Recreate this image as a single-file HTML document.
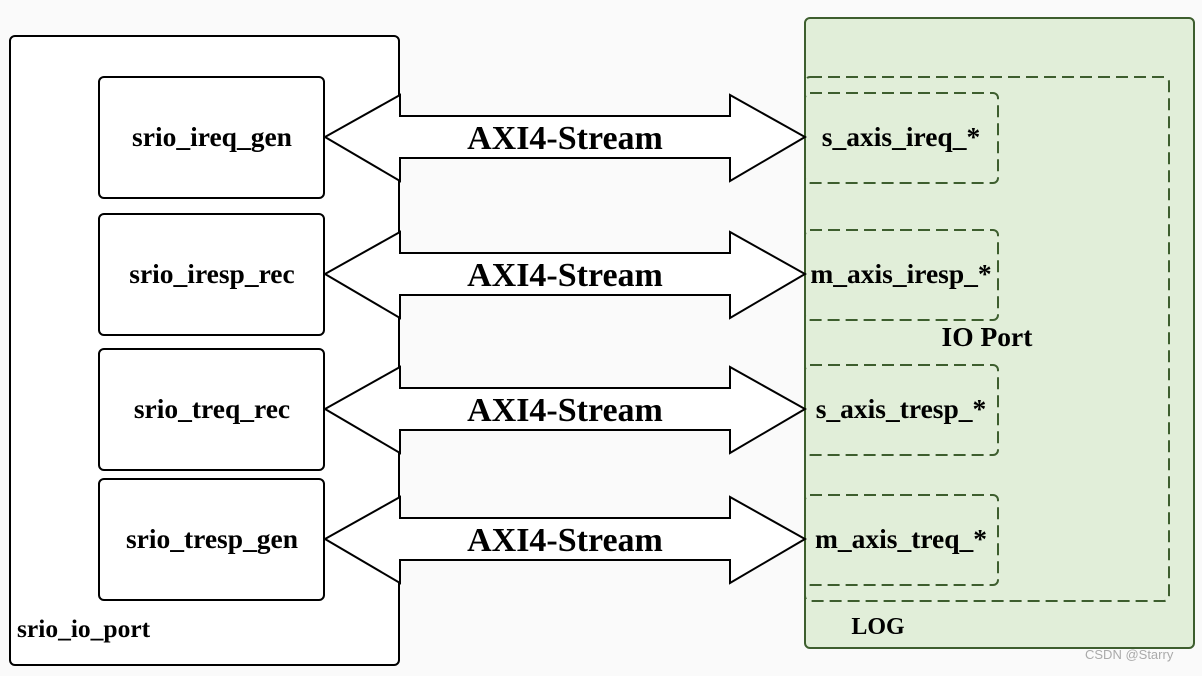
<!DOCTYPE html>
<html><head><meta charset="utf-8"><style>
html,body{margin:0;padding:0;background:#fafafa;}
svg text{font-family:"Liberation Serif",serif;font-weight:bold;fill:#000;}
</style></head><body>
<svg width="1202" height="671" viewBox="0 0 1202 671" xmlns="http://www.w3.org/2000/svg">
<rect x="0" y="0" width="1202" height="671" fill="#fafafa"/>
<rect x="10" y="36" width="389" height="629" rx="5" fill="#fff" stroke="#000" stroke-width="2"/>
<g fill="#fff" stroke="#000" stroke-width="2">
<rect x="99" y="77" width="225" height="121" rx="5"/>
<rect x="99" y="214" width="225" height="121" rx="5"/>
<rect x="99" y="349" width="225" height="121" rx="5"/>
<rect x="99" y="479" width="225" height="121" rx="5"/>
</g>
<g font-size="27.5" text-anchor="middle">
<text x="212" y="146">srio_ireq_gen</text>
<text x="212" y="283">srio_iresp_rec</text>
<text x="212" y="418">srio_treq_rec</text>
<text x="212" y="548">srio_tresp_gen</text>
</g>
<text x="17" y="637" font-size="25.5">srio_io_port</text>
<rect x="805" y="18" width="389" height="630" rx="5" fill="#e1eed9" stroke="#3d5e2e" stroke-width="2"/>
<g fill="none" stroke="#3d5e2e" stroke-width="2" stroke-dasharray="12,6">
<rect x="805" y="77" width="364" height="524" rx="5"/>
<rect x="805" y="93" width="193" height="90" rx="5"/>
<rect x="805" y="230" width="193" height="90" rx="5"/>
<rect x="805" y="365" width="193" height="90" rx="5"/>
<rect x="805" y="495" width="193" height="90" rx="5"/>
</g>
<g fill="#fff" stroke="#000" stroke-width="2">
<path d="M325,137 L400,95 L400,116 L730,116 L730,95 L805,137 L730,181 L730,158 L400,158 L400,181 Z"/>
<path d="M325,274 L400,232 L400,253 L730,253 L730,232 L805,274 L730,318 L730,295 L400,295 L400,318 Z"/>
<path d="M325,409 L400,367 L400,388 L730,388 L730,367 L805,409 L730,453 L730,430 L400,430 L400,453 Z"/>
<path d="M325,539 L400,497 L400,518 L730,518 L730,497 L805,539 L730,583 L730,560 L400,560 L400,583 Z"/>
</g>
<g font-size="34" text-anchor="middle">
<text x="565" y="149">AXI4-Stream</text>
<text x="565" y="286">AXI4-Stream</text>
<text x="565" y="421">AXI4-Stream</text>
<text x="565" y="551">AXI4-Stream</text>
</g>
<g font-size="27.5" text-anchor="middle">
<text x="901" y="146">s_axis_ireq_*</text>
<text x="901" y="283">m_axis_iresp_*</text>
<text x="901" y="418">s_axis_tresp_*</text>
<text x="901" y="548">m_axis_treq_*</text>
<text x="987" y="346">IO Port</text>
</g>
<text x="878" y="634" font-size="24" text-anchor="middle">LOG</text>
<text x="1085" y="659" font-size="13" style="font-family:'Liberation Sans',sans-serif;font-weight:normal;fill:#aaa">CSDN @Starry</text>
</svg>
</body></html>
